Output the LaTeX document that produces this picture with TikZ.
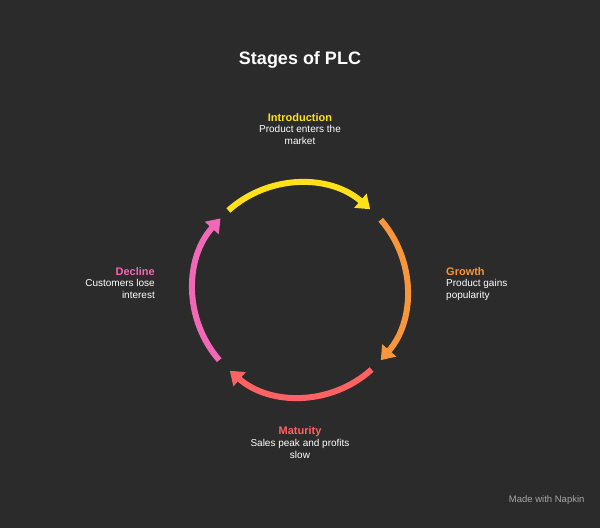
\documentclass[tikz,border=0pt]{standalone}
\usepackage{fontspec}
\setmainfont{Liberation Sans}
\usetikzlibrary{arrows.meta}
\definecolor{bg}{HTML}{2B2B2B}
\definecolor{cIntro}{HTML}{FFE11A}
\definecolor{cGrowth}{HTML}{F7963A}
\definecolor{cMature}{HTML}{FF6262}
\definecolor{cDecline}{HTML}{F068B6}
\begin{document}
\begin{tikzpicture}[x=1pt,y=1pt,
        stage/.style={line width=6pt, -{Triangle[length=13pt,width=18pt]}},
        head/.style={font=\bfseries\fontsize{11}{13}\selectfont, inner sep=0pt},
        body/.style={text=white, font=\fontsize{10}{12}\selectfont, inner sep=0pt},
    ]
    \fill[bg] (0,0) rectangle (600,528);
    \useasboundingbox (0,0) rectangle (600,528);
    \node (title) [text=white, font=\bfseries\fontsize{18}{20}\selectfont] at (300,468) {Stages of PLC};

    \coordinate (center) at (300,238);
    \draw[stage, cIntro] ([shift={(132:107)}]center) arc (132:49:107);
    \draw[stage, cGrowth] ([shift={(41:107)}]center) arc (41:-41:107);
    \draw[stage, cMature] ([shift={(-48:107)}]center) arc (-48:-131:107);
    \draw[stage, cDecline] ([shift={(-139:107)}]center) arc (-139:-222:107);

    \node (introHead) [head, text=cIntro] at (300,410) {Introduction};
    \node (introBody) [body, align=center, anchor=north] at (300,403) {Product enters the\\market};

    \node (growthHead) [head, text=cGrowth, anchor=west] at (446,256) {Growth};
    \node (growthBody) [body, align=left, anchor=north west] at (446,249) {Product gains\\popularity};

    \node (declineHead) [head, text=cDecline, anchor=east] at (155,256) {Decline};
    \node (declineBody) [body, align=right, anchor=north east] at (155,249) {Customers lose\\interest};

    \node (matureHead) [head, text=cMature] at (300,96) {Maturity};
    \node (matureBody) [body, align=center, anchor=north] at (300,89) {Sales peak and profits\\slow};

    \node (brand) [text=gray!70, font=\fontsize{9.5}{11}\selectfont, anchor=east] at (588,28) {Made with Napkin};
\end{tikzpicture}
\end{document}
